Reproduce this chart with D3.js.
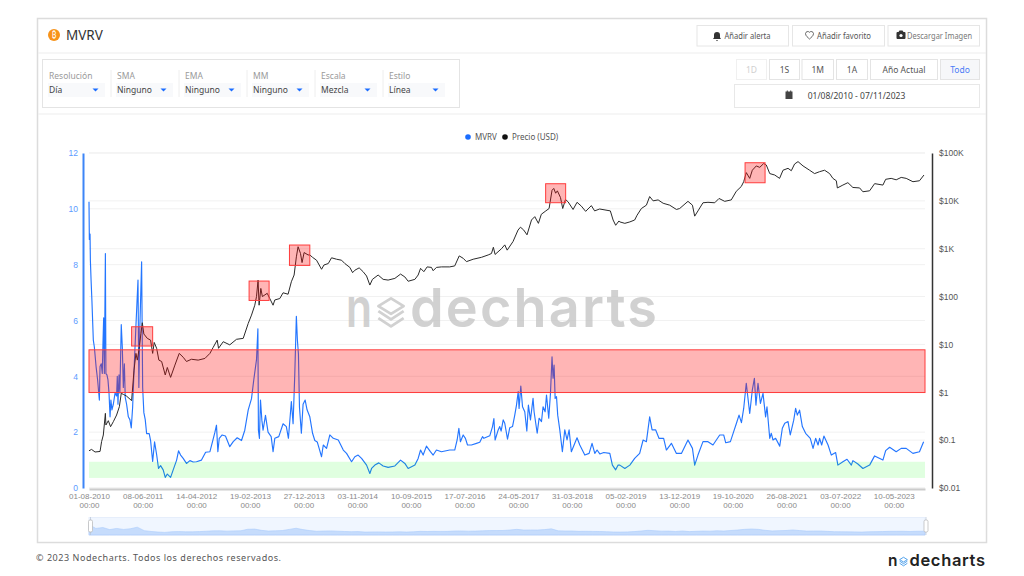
<!DOCTYPE html>
<html>
<head>
<meta charset="utf-8">
<script src="https://cdn.jsdelivr.net/npm/d3@7"></script>
<style>
  html, body { margin: 0; padding: 0; background: #fff; }
  svg { display: block; font-family: "Noto Sans", "Open Sans", sans-serif; }
</style>
</head>
<body>
<svg id="chart" width="1024" height="576"></svg>
<script>
const START_DATE = '01-08-2010';
const END_DATE = '07-11-2023';

const xTickLabels = ['01-08-2010', '08-06-2011', '14-04-2012', '19-02-2013', '27-12-2013', '03-11-2014', '10-09-2015',
  '17-07-2016', '24-05-2017', '31-03-2018', '05-02-2019', '13-12-2019', '19-10-2020', '26-08-2021', '03-07-2022', '10-05-2023'];
const mvrvTicks = [0, 2, 4, 6, 8, 10, 12];
const priceTicks = [0.01, 0.1, 1, 10, 100, 1000, 10000, 100000];
const priceTickLabels = ['$0.01', '$0.1', '$1', '$10', '$100', '$1K', '$10K', '$100K'];

// [days since START_DATE, MVRV]
const mvrvSeries = [[0, 10.25], [2, 8.9], [6, 9.1], [8, 8.15], [12, 7.45], [17, 6.7], [25, 5.3], [31, 5.05], [41, 4.35], [50, 3.87],
  [60, 3.15], [64, 4.35], [71, 4.45], [77, 4.1], [81, 5.2], [85, 6.1], [89, 4.1], [95, 8.4], [98, 4.1], [104, 4.05], [110, 3.87],
  [116, 3.4], [122, 2.55], [127, 3.15], [133, 2.8], [141, 3.0], [151, 3.4], [160, 3.3], [164, 4.0], [168, 3.0], [174, 4.05], [179, 3.4],
  [187, 5.85], [193, 5.05], [199, 3.6], [205, 4.45], [210, 3.25], [218, 3.0], [228, 2.55], [237, 2.45], [245, 2.15], [253, 2.9],
  [261, 4.2], [272, 5.8], [284, 7.45], [289, 3.6], [295, 5.8], [305, 8.1], [311, 3.6], [318, 2.7], [326, 2.45], [334, 1.95], [349, 1.95],
  [357, 1.7], [369, 0.95], [380, 1.65], [392, 1.2], [403, 0.7], [415, 0.8], [430, 0.65], [442, 0.38], [454, 0.5], [473, 0.38], [488, 0.65],
  [508, 1.0], [519, 1.33], [531, 1.18], [546, 1.06], [565, 0.88], [585, 0.98], [604, 0.93], [623, 0.94], [652, 1.0], [676, 1.28], [701, 1.3],
  [716, 1.66], [730, 2.0], [739, 2.25], [747, 1.3], [755, 1.78], [772, 1.9], [791, 1.86], [816, 1.48], [836, 1.66], [859, 1.8], [884, 1.7],
  [903, 2.07], [923, 2.8], [942, 3.2], [955, 3.87], [971, 4.6], [979, 5.7], [982, 2.07], [988, 1.78], [994, 3.15], [1002, 2.43], [1009, 2.07],
  [1023, 2.6], [1038, 2.0], [1056, 1.84], [1067, 1.3], [1077, 1.78], [1100, 1.84], [1125, 2.3], [1144, 2.2], [1156, 1.78], [1173, 3.1],
  [1183, 2.3], [1193, 4.1], [1202, 6.15], [1208, 5.3], [1214, 4.8], [1220, 2.9], [1231, 1.96], [1241, 3.0], [1253, 3.15], [1264, 2.8], [1280, 2.55],
  [1296, 1.96], [1309, 1.7], [1323, 1.65], [1334, 1.42], [1348, 1.12], [1358, 1.54], [1377, 1.42], [1396, 1.9], [1416, 1.78], [1445, 1.72],
  [1474, 1.36], [1493, 1.24], [1522, 0.94], [1541, 1.12], [1560, 1.18], [1580, 1.06], [1609, 0.82], [1628, 0.52], [1638, 0.7], [1657, 0.82],
  [1680, 0.9], [1705, 0.79], [1734, 0.74], [1773, 0.79], [1806, 1.0], [1831, 0.88], [1850, 0.7], [1889, 0.82], [1908, 1.06], [1922, 1.36],
  [1937, 1.18], [1956, 1.5], [1979, 1.3], [1995, 1.18], [2014, 1.36], [2043, 1.3], [2091, 1.36], [2120, 1.36], [2134, 1.72], [2144, 2.14],
  [2153, 1.66], [2169, 1.9], [2182, 1.78], [2194, 1.54], [2217, 1.54], [2246, 1.6], [2265, 1.64], [2281, 1.84], [2289, 1.78], [2323, 1.87],
  [2339, 2.2], [2347, 2.49], [2354, 1.72], [2372, 2.08], [2381, 2.2], [2389, 2.04], [2401, 2.44], [2410, 2.32], [2426, 1.75], [2439, 2.16],
  [2455, 2.2], [2468, 2.61], [2478, 2.97], [2488, 3.45], [2493, 2.85], [2503, 3.65], [2513, 2.91], [2526, 2.73], [2538, 2.04], [2547, 2.97],
  [2559, 2.44], [2574, 3.21], [2580, 2.73], [2598, 1.96], [2609, 2.5], [2623, 2.38], [2632, 2.91], [2644, 2.73], [2652, 3.33], [2665, 2.5],
  [2675, 3.39], [2684, 4.7], [2690, 3.93], [2696, 4.4], [2702, 3.21], [2710, 3.27], [2717, 2.61], [2729, 2.08], [2744, 1.3], [2758, 2.08],
  [2771, 1.72], [2783, 2.08], [2796, 1.3], [2816, 1.6], [2829, 1.8], [2845, 1.54], [2874, 1.18], [2899, 1.24], [2916, 1.6], [2932, 1.24],
  [2945, 1.36], [2961, 1.22], [2984, 1.27], [3019, 1.24], [3034, 0.82], [3053, 0.65], [3067, 0.82],
  [3077, 0.82], [3106, 0.7], [3135, 0.82], [3163, 1.06], [3192, 1.24], [3212, 1.72], [3231, 1.66], [3250, 2.55], [3264, 2.08], [3285, 2.08],
  [3304, 1.78], [3331, 1.78], [3347, 1.36], [3376, 1.6], [3405, 1.24], [3434, 1.24], [3472, 1.72], [3498, 1.42], [3511, 0.82], [3530, 1.18],
  [3559, 1.66], [3588, 1.66], [3617, 1.54], [3656, 1.9], [3679, 1.9], [3691, 1.62], [3718, 1.66], [3737, 2.02], [3753, 2.32], [3768, 2.61],
  [3782, 2.34], [3795, 2.85], [3810, 3.75], [3830, 2.67], [3845, 3.51], [3857, 3.93], [3866, 2.97], [3878, 3.75], [3892, 3.03], [3907, 3.39],
  [3922, 2.55], [3930, 2.91], [3946, 1.78], [3955, 1.96], [3965, 1.72], [3980, 1.78], [4004, 1.5], [4019, 2.14], [4033, 2.32], [4052, 2.38],
  [4065, 1.9], [4085, 2.43], [4096, 2.85], [4106, 2.61], [4119, 2.79], [4135, 2.2], [4154, 1.96], [4181, 1.78], [4197, 1.42], [4212, 1.78],
  [4226, 1.54], [4235, 1.78], [4247, 1.54], [4260, 1.86], [4284, 1.54], [4303, 1.18], [4328, 1.27], [4341, 0.82], [4370, 0.94], [4394, 1.03],
  [4419, 0.82], [4428, 0.98], [4457, 0.86], [4486, 0.7], [4525, 0.82], [4554, 1.15], [4602, 1.0], [4618, 1.34], [4641, 1.46],
  [4679, 1.3], [4708, 1.42], [4737, 1.42], [4776, 1.24], [4814, 1.3], [4838, 1.66]];

// [days since START_DATE, price in USD]
const priceSeries = [[0, 0.06], [15, 0.064], [35, 0.0565], [64, 0.058], [73, 0.093], [83, 0.128], [95, 0.363], [98, 0.207], [112, 0.255],
  [125, 0.191], [141, 0.243], [160, 0.335], [176, 0.5], [187, 0.95], [199, 0.905], [218, 0.83], [247, 0.67], [261, 2.9], [272, 6.5], [280, 4.7],
  [291, 8.3], [301, 17], [309, 28.4], [318, 16.5], [338, 13.4], [357, 12.3], [369, 6.5], [378, 11], [392, 8.3], [405, 4.7], [421, 4.4], [442, 2.3],
  [454, 3.3], [473, 2.05], [498, 3.7], [523, 6.5], [546, 5.4], [565, 4.4], [594, 4.9], [633, 4.7], [672, 5.1], [701, 6.5], [720, 8.7], [743, 12.3],
  [751, 8.3], [778, 11.4], [816, 9.8], [855, 12.8], [894, 13.4], [923, 27.5], [942, 41], [961, 66], [971, 100], [980, 221], [986, 66], [996, 148],
  [1005, 100], [1033, 117], [1048, 91], [1067, 66], [1077, 85], [1106, 91], [1125, 120], [1154, 112], [1173, 204], [1189, 282], [1202, 676],
  [1212, 1100], [1226, 794], [1235, 513], [1247, 832], [1270, 741], [1280, 741], [1296, 660], [1319, 575], [1348, 372], [1362, 457], [1387, 490],
  [1406, 646], [1435, 603], [1464, 575], [1483, 490], [1512, 407], [1528, 316], [1541, 355], [1566, 398], [1589, 331], [1609, 269], [1628, 174],
  [1643, 229], [1676, 282], [1705, 229], [1734, 221], [1773, 240], [1806, 295], [1831, 257], [1850, 209], [1889, 229], [1908, 282], [1922, 389],
  [1941, 331], [1960, 417], [1985, 407], [1995, 347], [2014, 407], [2043, 417], [2091, 417], [2120, 437], [2146, 708], [2169, 631], [2188, 537],
  [2227, 603], [2275, 661], [2314, 741], [2333, 794], [2344, 1072], [2354, 759], [2391, 1000], [2410, 1202], [2424, 933], [2458, 1413], [2487, 2455],
  [2501, 2818], [2520, 2455], [2539, 1950], [2565, 3980], [2584, 4677], [2605, 3388], [2622, 5248], [2648, 6166], [2667, 6918], [2684, 16600],
  [2694, 18200], [2705, 14450], [2715, 16200], [2733, 11750], [2746, 6918], [2762, 10700], [2777, 9550], [2806, 6600], [2829, 9330], [2854, 7760],
  [2879, 6030], [2912, 7950], [2931, 6170], [2960, 6760], [3022, 6170], [3038, 3980], [3053, 3090], [3072, 3800],
  [3077, 3630], [3106, 3390], [3135, 3630], [3163, 3980], [3177, 5010], [3202, 6920], [3231, 8130], [3250, 12300], [3270, 10000], [3299, 10470],
  [3328, 8910], [3366, 8130], [3405, 6610], [3424, 6920], [3472, 9770], [3498, 8130], [3511, 4790], [3530, 6170], [3559, 9120], [3588, 9330],
  [3627, 9120], [3652, 11220], [3685, 9770], [3723, 10470], [3752, 15850], [3781, 19950], [3795, 25120], [3810, 38900], [3830, 29500], [3845, 43650],
  [3868, 53700], [3888, 50100], [3911, 60260], [3926, 56200], [3946, 37150], [3975, 34670], [4003, 29500], [4023, 43650], [4052, 47860], [4071, 42660],
  [4090, 58900], [4110, 66070], [4139, 53700], [4177, 43650], [4206, 37150], [4235, 40700], [4264, 43650], [4293, 37150], [4312, 29500], [4332, 26300],
  [4338, 18600], [4370, 21380], [4399, 23990], [4428, 19050], [4467, 18620], [4486, 15490], [4525, 16220], [4554, 22900], [4602, 21380], [4618, 28180],
  [4650, 29510], [4679, 27540], [4708, 30900], [4737, 29510], [4776, 25120], [4814, 26300], [4840, 34670]];

// [first day, last day, low USD, high USD]
const peakBoxes = [[247, 369, 9.26, 23.4], [928, 1044, 83, 211], [1162, 1280, 448, 1194], [2647, 2763, 9150, 22800], [3803, 3919, 23900, 62600]];
const redBand = [3.42, 4.95];
const greenBand = [0.36, 0.94];

const filterNames = ['Resolución', 'SMA', 'EMA', 'MM', 'Escala', 'Estilo'];
const filterValues = ['Día', 'Ninguno', 'Ninguno', 'Ninguno', 'Mezcla', 'Línea'];
const rangeLabels = ['1D', '1S', '1M', '1A', 'Año Actual', 'Todo'];
const actionLabels = ['Añadir alerta', 'Añadir favorito', 'Descargar Imagen'];

const BLUE = '#2476ff';
const svg = d3.select('#chart');
const parseDate = d3.timeParse('%d-%m-%Y');
const startDate = parseDate(START_DATE);
const endDate = parseDate(END_DATE);
const dayToDate = d => d3.timeDay.offset(startDate, d);

const x = d3.scaleTime().domain([startDate, endDate]).range([89, 925]);
const yMvrv = d3.scaleLinear().domain([0, 12]).range([488, 153]);
const yPrice = d3.scaleLog().domain([0.01, 100000]).range([488, 153]);

const addBox = (parent, x0, y0, w, h, fill, stroke) => parent.append('rect')
  .attr('x', x0).attr('y', y0).attr('width', w).attr('height', h)
  .attr('fill', fill).attr('stroke', stroke);

const addText = (parent, tx, ty, str, size, color, anchor) => parent.append('text')
  .attr('x', tx).attr('y', ty)
  .attr('font-size', size)
  .attr('fill', color)
  .attr('text-anchor', anchor || 'start')
  .text(str);

const drawFrame = () => {
  const g = svg.append('g');
  g.append('rect').attr('x', 37.5).attr('y', 18.5).attr('width', 949).attr('height', 524)
    .attr('fill', '#fff').attr('stroke', '#dcdcdc').attr('stroke-width', 1.5);
  [53, 114].forEach(ly => {
    g.append('line').attr('x1', 38).attr('x2', 986).attr('y1', ly).attr('y2', ly).attr('stroke', '#eeeeee').attr('stroke-width', 1.2);
  });

  g.append('circle').attr('cx', 54).attr('cy', 35).attr('r', 6).attr('fill', '#f7931a');
  addText(g, 54, 38, '₿', 8, '#fff', 'middle');
  addText(g, 66, 40, 'MVRV', 13.5, '#333');

  addBox(g, 42.5, 59.5, 417, 48, '#fff', '#e4e4e4');
  const filterX = d3.scaleLinear().domain([0, 1]).range([49, 117]);
  filterNames.forEach((name, i) => {
    const fx = filterX(i);
    if (i > 0) {
      g.append('line').attr('x1', fx - 6).attr('x2', fx - 6).attr('y1', 70).attr('y2', 97).attr('stroke', '#eeeeee');
    }
    addBox(g, fx - 1, 83, 57, 14, '#f8f9fb', 'none');
    addText(g, fx, 79, name, 8.5, '#9a9a9a');
    addText(g, fx, 93, filterValues[i], 8.5, '#444');
    g.append('path')
      .attr('d', `M${fx + 43.5},88.5h6l-3,3z`)
      .attr('fill', '#1a6dff');
  });

  const actionX = [697, 792.5, 888];
  const actionW = [91.5, 92, 91.5];
  const actionTextX = [724.5, 817, 907];
  const actionTextW = [46, 54, 65];
  actionLabels.forEach((label, i) => {
    addBox(g, actionX[i], 25.5, actionW[i], 20.5, '#fff', '#e6e6e6');
    addText(g, actionTextX[i], 38.5, label, 8.5, i === 2 ? '#777' : '#555')
      .attr('textLength', actionTextW[i]).attr('lengthAdjust', 'spacingAndGlyphs');
  });
  g.append('path').attr('d', 'M713,39h8l-1,-1.5v-2.5a3,3 0 0 0 -6,0v2.5zM716,40h2l-1,1.2z').attr('fill', '#333');
  g.append('path').attr('d', 'M813.5,33.5a2.3,2.3 0 0 0 -4,-1.2a2.3,2.3 0 0 0 -4,1.2c0,2.5 2.5,4 4,5.5c1.5,-1.5 4,-3 4,-5.5z')
    .attr('fill', 'none').attr('stroke', '#444').attr('stroke-width', 0.8);
  g.append('path').attr('d', 'M897.5,32h1l1,-1.5h3l1,1.5h1a1,1 0 0 1 1,1v5a1,1 0 0 1 -1,1h-7a1,1 0 0 1 -1,-1v-5a1,1 0 0 1 1,-1z').attr('fill', '#333');
  g.append('circle').attr('cx', 901).attr('cy', 35.5).attr('r', 1.6).attr('fill', '#fff');

  const rangeX = [736.5, 769.5, 802, 836.5, 870.5, 940.5];
  const rangeW = [30, 30, 31.5, 31, 67, 39];
  rangeLabels.forEach((label, i) => {
    const active = label === 'Todo';
    addBox(g, rangeX[i], 59.5, rangeW[i], 20, active ? '#f6f7f9' : '#fff', i === 0 ? '#f0f0f0' : '#e4e4e4');
    addText(g, rangeX[i] + rangeW[i] / 2, 72.5, label, 8.5, i === 0 ? '#d0d0d0' : active ? '#4a7cf7' : '#555', 'middle');
  });

  addBox(g, 734.5, 84.5, 245, 23, '#fff', '#e8e8e8');
  addText(g, 856.5, 99, '01/08/2010 - 07/11/2023', 8.5, '#444', 'middle');
  g.append('path').attr('d', 'M785.5,91.5h7v7.5h-7zM786.8,90.5h1v1h-1zM790.2,90.5h1v1h-1z').attr('fill', '#444');

  addText(g, 36, 561, '© 2023 Nodecharts. Todos los derechos reservados.', 9, '#555')
    .attr('textLength', 245);
};

// stacked hexagon mark used in both logos
const drawLogoIcon = (parent, cx, cy, r, color, width) => {
  const icon = parent.append('g')
    .attr('fill', 'none').attr('stroke', color).attr('stroke-width', width).attr('stroke-linejoin', 'round');
  icon.append('path')
    .attr('d', `M${cx},${cy - r}L${cx + r * 0.9},${cy - r * 0.45}L${cx},${cy + r * 0.1}L${cx - r * 0.9},${cy - r * 0.45}Z`);
  icon.append('path')
    .attr('d', `M${cx - r * 0.9},${cy - r * 0.1}L${cx},${cy + r * 0.5}L${cx + r * 0.9},${cy - r * 0.1}`);
  icon.append('path')
    .attr('d', `M${cx - r * 0.9},${cy + r * 0.4}L${cx},${cy + r}L${cx + r * 0.9},${cy + r * 0.4}`);
};

const drawLogo = (parent, lx, ly, size, w1, gap, w2, color, iconColor, weight) => {
  parent.append('text').attr('x', lx).attr('y', ly)
    .attr('font-size', size).attr('font-weight', weight).attr('fill', color)
    .attr('font-family', 'Inter, sans-serif')
    .attr('textLength', w1).attr('lengthAdjust', 'spacingAndGlyphs').text('n');
  drawLogoIcon(parent, lx + w1 + gap / 2, ly - size * 0.27, size * 0.26, iconColor, size * 0.05);
  parent.append('text').attr('x', lx + w1 + gap).attr('y', ly)
    .attr('font-size', size).attr('font-weight', weight).attr('fill', color)
    .attr('font-family', 'Inter, sans-serif')
    .attr('textLength', w2).attr('lengthAdjust', 'spacing').text('decharts');
};

const drawAxes = () => {
  const grid = svg.append('g');
  mvrvTicks.forEach(t => {
    grid.append('line').attr('x1', 89).attr('x2', 925).attr('y1', yMvrv(t)).attr('y2', yMvrv(t)).attr('stroke', '#f1f1f1');
  });
  priceTicks.forEach(t => {
    grid.append('line').attr('x1', 89).attr('x2', 925).attr('y1', yPrice(t)).attr('y2', yPrice(t)).attr('stroke', '#f1f1f1');
  });

  const left = svg.append('g')
    .attr('transform', 'translate(83, 0)')
    .call(d3.axisLeft(yMvrv).tickValues(mvrvTicks).tickSize(0).tickPadding(5));
  left.select('.domain').attr('stroke', '#3d85f7').attr('stroke-width', 2);
  left.selectAll('text').attr('fill', '#5c9bff').attr('font-size', 8.5).attr('font-family', 'inherit');

  const right = svg.append('g')
    .attr('transform', 'translate(932, 0)')
    .call(d3.axisRight(yPrice).tickValues(priceTicks).tickSize(0).tickPadding(7)
      .tickFormat((d, i) => priceTickLabels[i]));
  right.select('.domain').attr('stroke', '#333').attr('stroke-width', 1.5);
  right.selectAll('text').attr('fill', '#555').attr('font-size', 8.5).attr('font-family', 'inherit');

  const bottom = svg.append('g')
    .attr('transform', 'translate(0, 489)')
    .call(d3.axisBottom(x).tickValues(xTickLabels.map(parseDate)).tickSize(0).tickPadding(0)
      .tickFormat(() => ''));
  bottom.select('.domain').attr('stroke', '#cccccc').attr('stroke-width', 2);
  bottom.selectAll('.tick text').remove();
  bottom.selectAll('.tick').each(function (d, i) {
    const tick = d3.select(this);
    addText(tick, 0, 10, xTickLabels[i], 8, '#8a8a8a', 'middle');
    addText(tick, 0, 19, '00:00', 8, '#8a8a8a', 'middle');
  });
};

const drawLines = () => {
  const mvrvLine = d3.line().x(d => x(dayToDate(d[0]))).y(d => yMvrv(d[1]));
  const priceLine = d3.line().x(d => x(dayToDate(d[0]))).y(d => yPrice(d[1]));

  svg.append('path').datum(mvrvSeries)
    .attr('d', mvrvLine)
    .attr('fill', 'none').attr('stroke', BLUE).attr('stroke-width', 1.15).attr('stroke-linejoin', 'round');
  svg.append('path').datum(priceSeries)
    .attr('d', priceLine)
    .attr('fill', 'none').attr('stroke', '#2a2a2a').attr('stroke-width', 1).attr('stroke-linejoin', 'round');
};

const drawBands = () => {
  const endX = x.range()[1];
  svg.append('rect')
    .attr('x', 89).attr('width', endX - 89)
    .attr('y', yMvrv(greenBand[1])).attr('height', yMvrv(greenBand[0]) - yMvrv(greenBand[1]))
    .attr('fill', 'rgba(0, 255, 0, 0.12)');
  svg.append('rect')
    .attr('x', 89).attr('width', endX - 89)
    .attr('y', yMvrv(redBand[1])).attr('height', yMvrv(redBand[0]) - yMvrv(redBand[1]))
    .attr('fill', 'rgba(255, 0, 0, 0.29)').attr('stroke', '#ff3b3b').attr('stroke-width', 1);

  svg.selectAll('.peak')
    .data(peakBoxes)
    .enter()
    .append('rect')
    .attr('class', 'peak')
    .attr('x', d => x(dayToDate(d[0])))
    .attr('width', d => x(dayToDate(d[1])) - x(dayToDate(d[0])))
    .attr('y', d => yPrice(d[3]))
    .attr('height', d => yPrice(d[2]) - yPrice(d[3]))
    .attr('fill', 'rgba(255, 0, 0, 0.29)').attr('stroke', '#ff3b3b').attr('stroke-width', 1);
};

const drawLegend = () => {
  const g = svg.append('g');
  g.append('circle').attr('cx', 468).attr('cy', 137).attr('r', 2.8).attr('fill', '#1a6dff');
  addText(g, 475, 140, 'MVRV', 8, '#555');
  g.append('circle').attr('cx', 505).attr('cy', 137).attr('r', 2.8).attr('fill', '#111');
  addText(g, 512, 140, 'Precio (USD)', 8, '#555');
};

const drawSlider = () => {
  const g = svg.append('g');
  addBox(g, 89, 517.5, 836, 17.5, '#f0f6ff', '#e6eefb');
  const bins = d3.bin().value(d => d[0]).thresholds(d3.range(0, 4860, 40))(mvrvSeries).filter(b => b.length);
  const ySlider = d3.scaleLinear().domain([-2, 10]).range([535, 522]);
  const overview = bins.map(b => ({ date: dayToDate(b.x0), value: d3.mean(b, d => d[1]) }));
  overview.push({ date: endDate, value: overview[overview.length - 1].value });
  const area = d3.area()
    .x(d => x(d.date))
    .y0(535)
    .y1(d => ySlider(d.value));
  g.append('path').datum(overview).attr('d', area).attr('fill', '#c6dcfc').attr('stroke', '#a9cbfb').attr('stroke-width', 0.6);
  [90.5, 926].forEach(hx => {
    g.append('line').attr('x1', hx).attr('x2', hx).attr('y1', 517).attr('y2', 535).attr('stroke', '#b8c4d6').attr('stroke-width', 0.7);
    g.append('rect').attr('x', hx - 2).attr('y', 520).attr('width', 4).attr('height', 12).attr('rx', 1.5)
      .attr('fill', '#fff').attr('stroke', '#b5b5b5').attr('stroke-width', 0.7);
  });
};

drawFrame();
drawAxes();
drawLogo(svg.append('g').attr('opacity', 0.8), 346, 327, 54, 26, 38, 247, '#c6c6c6', '#c6c6c6', 600);
drawLines();
drawBands();
drawLegend();
drawSlider();
drawLogo(svg.append('g'), 888, 566, 16.5, 9.5, 12, 75.5, '#222', '#2f8fe8', 600);
</script>
</body>
</html>
